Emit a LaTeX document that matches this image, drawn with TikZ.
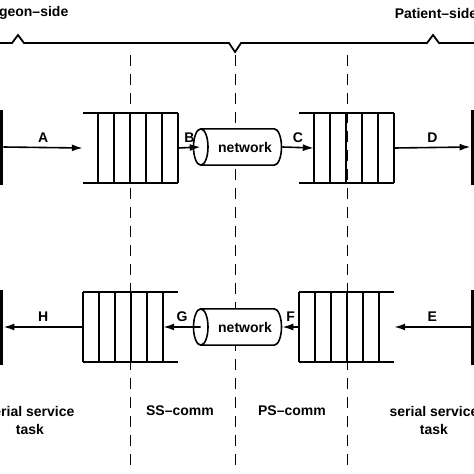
\documentclass[tikz,border=0pt]{standalone}
\usepackage{fontspec}
\setmainfont{Liberation Sans}
\usetikzlibrary{positioning,arrows.meta,shapes.geometric}

\tikzset{
  wall/.style={fill=black,minimum width=3.5pt,minimum height=75pt,inner sep=0pt},
  qbox/.style={minimum width=95pt,minimum height=70pt,inner sep=0pt},
  qline/.style={line width=1.6pt},
  netw/.style={cylinder,shape border rotate=180,draw,fill=white,line width=1.6pt,
    aspect=0.4,minimum height=88pt,inner xsep=1pt,inner ysep=13pt},
  flow/.style={line width=1.6pt,->},
  lbl/.style={midway,above=1pt}
}

\begin{document}
\begin{tikzpicture}[x=1pt,y=-1pt,>={Latex[length=11pt,width=7pt]},
  font=\bfseries\fontsize{14}{18}\selectfont]
\useasboundingbox (0,0) rectangle (474,474);

% sides
\draw[line width=1.8pt] (-5,43) -- (12,43) -- (18,35) -- (24,43) -- (229,43)
  -- (235,52) -- (241,43) -- (427,43) -- (433,35) -- (439,43) -- (480,43);
\node (surg) at (22,13) {Surgeon--side};
\node (pat) at (436,13) {Patient--side};

% task borders
\foreach \x in {130,235,347}
  \draw[line width=0.9pt,dash pattern=on 11pt off 8pt] (\x,55) -- (\x,468);

% top row
\node[wall] (ss1) at (1.5,147) {};
\node[qbox] (q1) at (130.5,148) {};
\node[netw] (net1) at (245,147) {network};
\node[qbox] (q2) at (346.5,148) {};
\node[wall] (ps1) at (472.5,147) {};

% bottom row
\node[wall] (ss2) at (1.5,327) {};
\node[qbox] (q3) at (130.5,327) {};
\node[netw] (net2) at (245,327) {network};
\node[qbox] (q4) at (346.5,327) {};
\node[wall] (ps2) at (472.5,327) {};

% queues
\foreach \q in {q1,q2,q3,q4}
  \draw[qline] (\q.north west) -- (\q.north east) (\q.south west) -- (\q.south east);
\foreach \q in {q1,q2}
  \foreach \b in {15,31,47,63,79,95}
    \draw[qline] ([xshift=\b pt]\q.north west) -- ([xshift=\b pt]\q.south west);
\foreach \q in {q3,q4}
  \foreach \b in {0,16,32,48,64,80}
    \draw[qline] ([xshift=\b pt]\q.north west) -- ([xshift=\b pt]\q.south west);

% flows
\draw[flow] (ss1.east) -- node[lbl]{A} (q1.west);
\draw[flow] (q1.east) -- node[lbl]{B} ([xshift=8pt]net1.west);
\draw[flow] (net1.east) -- node[lbl]{C} ([xshift=15pt]q2.west);
\draw[flow] (q2.east) -- node[lbl]{D} (ps1.west);
\draw[flow] (ps2.west) -- node[lbl]{E} (q4.east);
\draw[flow] (q4.west) -- node[lbl]{F} (net2.east);
\draw[flow] ([xshift=8pt]net2.west) -- node[lbl]{G} ([xshift=-15pt]q3.east);
\draw[flow] (q3.west) -- node[lbl]{H} (ss2.east);

% tasks
\node[align=center] (sst) at (30,420) {serial service\\task};
\node (ssc) at (180,411) {SS--comm};
\node (psc) at (292,411) {PS--comm};
\node[align=center] (pst) at (434,420) {serial service\\task};
\end{tikzpicture}
\end{document}
